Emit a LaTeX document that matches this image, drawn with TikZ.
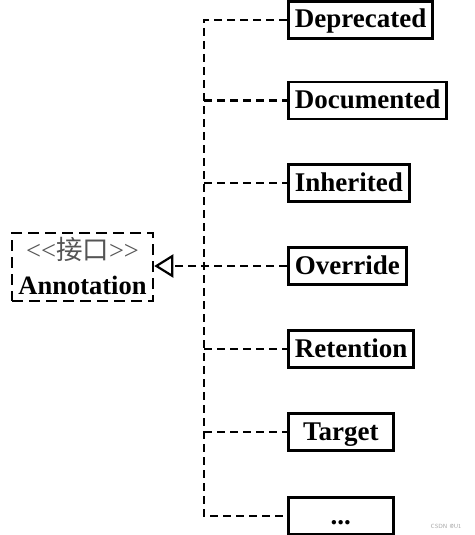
\documentclass[tikz,border=0pt]{standalone}
\usepackage{fontspec}
\setmainfont{Liberation Serif}
\newfontfamily\cjk{Noto Sans CJK SC}
\usetikzlibrary{arrows.meta}
\tikzset{
  leaf/.style={draw, line width=2.7pt, anchor=west, minimum width=105pt, minimum height=37pt,
    inner xsep=6.5pt, inner ysep=0pt, text height=20pt, text depth=4pt,
    font=\fontsize{27}{32}\selectfont\bfseries},
  link/.style={line width=2.8pt, dash pattern=on 8pt off 5pt},
  iface/.style={draw, line width=2.5pt, dash pattern=on 11pt off 6pt, minimum width=141pt,
    minimum height=68pt, inner sep=0pt, align=center, text depth=2pt,
    font=\fontsize{26.5}{35}\selectfont},
}
\begin{document}
\begin{tikzpicture}[x=1pt,y=-1pt]
\useasboundingbox (0,0) rectangle (474,535);
\node[leaf] (dep) at (287,20) {Deprecated};
\node[leaf] (doc) at (287,100.5) {Documented};
\node[leaf] (inh) at (287,183) {Inherited};
\node[leaf] (ovr) at (287,266) {Override};
\node[leaf] (ret) at (287,349) {Retention};
\node[leaf] (tgt) at (287,432) {Target};
\node[leaf] (dots) at (287,516) {...};
\node[iface] (ann) at (82.5,267) {{\color[HTML]{555555}<{}<{\cjk 接口}>{}>}\\{\bfseries Annotation}};
\coordinate (trunk) at (204,0);
\draw[link] (dep.west) -- (dep.west -| trunk) -- (dots.west -| trunk) -- (dots.west);
\foreach \n in {doc,inh,ret,tgt} \draw[link] (\n.west -| trunk) -- (\n.west);
\draw[link, -{Triangle[open, length=19pt, width=23pt, line width=2.2pt]}] (ovr.west) -- (ann.east |- ovr.west);
\node[font=\sffamily\fontsize{6}{7}\selectfont, text=black!35] (wm) at (446,526) {CSDN @U1};
\end{tikzpicture}
\end{document}
